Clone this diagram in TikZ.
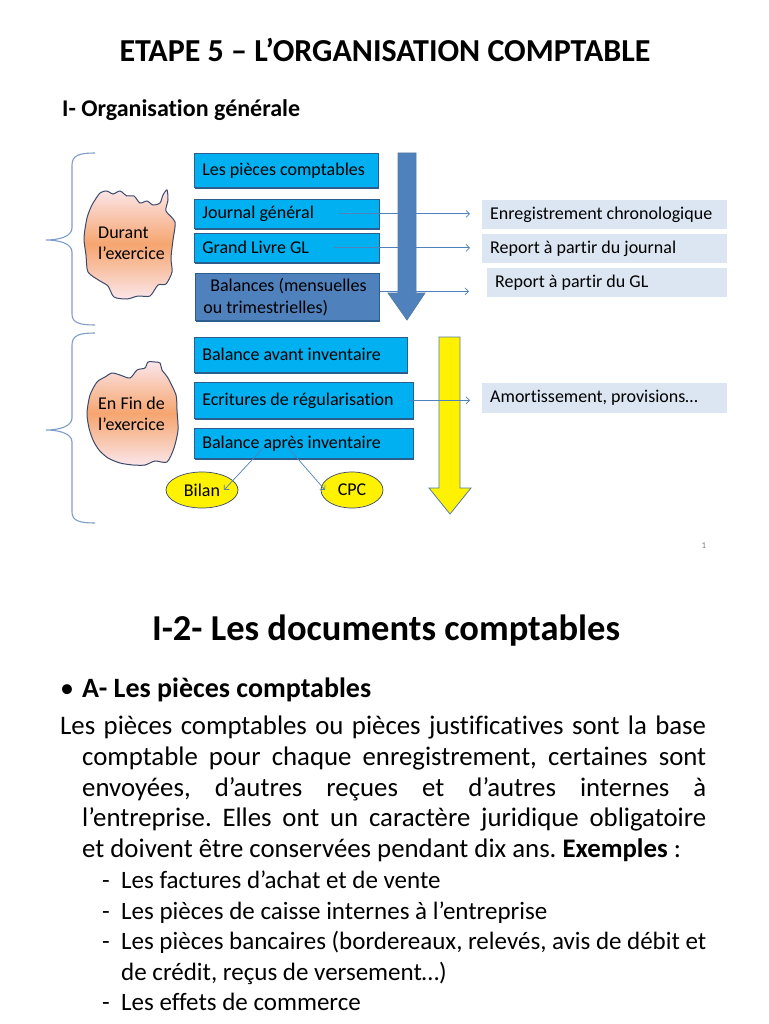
\documentclass[tikz,border=0pt]{standalone}
\usepackage{fontspec}
\setmainfont{Carlito}[Ligatures=NoCommon]
\usepackage{tikz}
\usetikzlibrary{arrows.meta,positioning,shadows,shapes.geometric}

\definecolor{cyanbox}{HTML}{00B0F0}
\definecolor{steel}{HTML}{4F81BD}
\definecolor{boxedge}{HTML}{2C5D8F}
\definecolor{lightbox}{HTML}{DCE6F2}
\definecolor{bracecol}{HTML}{7F9DCB}
\definecolor{cloudline}{HTML}{3B4A6B}
\definecolor{cloudtop}{HTML}{FBE6EA}
\definecolor{cloudmid}{HTML}{F6A56F}

\begin{document}
\begin{tikzpicture}[
    x=1pt, y=-1pt,
    font=\fontsize{18}{21}\selectfont,
    block/.style={draw=boxedge, line width=0.6pt, fill=cyanbox, rectangle, anchor=north west,
        inner xsep=8pt, inner ysep=0pt, align=flush left, text width=#1,
        drop shadow={fill=boxedge, shadow xshift=0.8pt, shadow yshift=-1.6pt, opacity=1}},
    note/.style={fill=lightbox, rectangle, anchor=north west, inner xsep=8pt, inner ysep=0pt,
        align=flush left, text width=#1},
    oval/.style={draw=cloudline, line width=0.7pt, fill=yellow, ellipse, inner sep=0pt},
    cloud/.style={draw=cloudline, line width=1pt, top color=cloudtop, bottom color=cloudtop,
        middle color=cloudmid},
    brace/.style={draw=bracecol, line width=1.1pt},
    bigarrow/.style={draw=boxedge!80, line width=0.8pt},
    link/.style={draw=steel, line width=0.7pt, -{Straight Barb[length=3.5pt,width=7pt]}},
    title/.style={font=\fontsize{32}{36}\selectfont\bfseries},
    body/.style={anchor=north west, inner sep=0pt, align=justify}
]
    \useasboundingbox (0,0) rectangle (768,1024);
    \fill[white] (0,0) rectangle (768,1024);

    % Diapo 1 : titres
    \node[title] (titre) at (385,50) {ETAPE 5 – L’ORGANISATION COMPTABLE};
    \node[anchor=west, inner sep=0pt, font=\fontsize{24}{26}\selectfont\bfseries] (orga) at (62,110) {I- Organisation générale};

    % Accolades
    \draw[brace] (95,153) .. controls (80,153) and (72,155) .. (72,165) -- (72,228)
        .. controls (72,236) and (60,240) .. (46,240) .. controls (60,240) and (72,244) .. (72,252)
        -- (72,314) .. controls (72,323) and (80,325) .. (95,325);
    \draw[brace] (95,333) .. controls (80,333) and (72,335) .. (72,345) -- (72,418)
        .. controls (72,426) and (60,430) .. (46,430) .. controls (60,430) and (72,434) .. (72,442)
        -- (72,512) .. controls (72,521) and (80,523) .. (95,523);

    % Formes des periodes
    \draw[cloud] plot[smooth cycle, tension=0.45] coordinates {(87,218) (92,205) (100,193) (107,191)
        (113,194) (120,191) (127,196) (134,196) (140,203) (147,201) (153,205) (160,203) (163,195)
        (167,190) (168,200) (166,211) (175,222) (173,240) (171,258) (172,272) (166,284) (158,285)
        (150,296) (138,296) (127,299) (114,297) (108,286) (100,281) (88,272) (86,255) (84,238)};
    \draw[cloud] plot[smooth cycle, tension=0.45] coordinates {(87,413) (90,395) (97,382) (105,377)
        (112,373) (120,375) (130,378) (137,370) (145,368) (148,362) (155,362) (160,363) (162,370)
        (168,378) (176,395) (177,410) (178,430) (174,448) (167,462) (155,461) (145,465) (133,465)
        (120,463) (108,458) (99,450) (93,440) (89,428)};
    \node[anchor=west, align=left, inner sep=0pt] (durant) at (98,243) {Durant\\l’exercice};
    \node[anchor=west, align=left, inner sep=0pt] (fin) at (98,414) {En Fin de\\l’exercice};

    % Grandes fleches
    \draw[bigarrow, fill=steel] (398,153) -- (416,153) -- (416,293) -- (425,293) -- (407,320)
        -- (388,293) -- (398,293) -- cycle;
    \draw[bigarrow, fill=yellow] (439,337) -- (460,337) -- (460,488) -- (471,488) -- (450,514)
        -- (429,488) -- (439,488) -- cycle;

    % Etapes
    \node[block=168pt, minimum height=34pt] (pieces) at (194,153) {Les pièces comptables};
    \node[block=169pt, minimum height=29pt] (journal) at (194,199) {Journal général};
    \node[block=169pt, minimum height=29pt] (grandlivre) at (194,233) {Grand Livre GL};
    \node[block=168pt, minimum height=47pt, fill=steel, font=\fontsize{18}{22}\selectfont]
        (balances) at (195,273) {\hspace*{7pt}Balances (mensuelles\\ou trimestrielles)};
    \node[block=197pt, minimum height=35pt] (avant) at (194,337) {Balance avant inventaire};
    \node[block=203pt, minimum height=36pt] (regul) at (194,382) {Ecritures de régularisation};
    \node[block=203pt, minimum height=30pt] (apres) at (194,428) {Balance après inventaire};

    \node[oval, minimum width=72pt, minimum height=36pt] (bilan) at (202,490) {Bilan};
    \node[oval, minimum width=62pt, minimum height=36pt] (cpc) at (352,490) {CPC};

    % Commentaires a droite
    \node[note=229pt, minimum height=29pt] (chrono) at (482,200) {Enregistrement chronologique};
    \node[note=229pt, minimum height=29pt] (repjournal) at (482,234) {Report à partir du journal};
    \node[note=224pt, minimum height=29pt] (repgl) at (487,268) {Report à partir du GL};
    \node[note=229pt, minimum height=30pt] (amort) at (482,383) {Amortissement, provisions…};

    % Liens
    \coordinate (balout) at ([yshift=5.5pt]balances.east);
    \draw[link, shorten >=12pt] ([xshift=-41pt]journal.east) -- (journal.east -| chrono.west);
    \draw[link, shorten >=12pt] ([xshift=-46pt]grandlivre.east) -- (grandlivre.east -| repjournal.west);
    \draw[link, shorten >=18pt] (balout) -- (balout -| repgl.west);
    \draw[link, shorten >=12pt] ([xshift=-5pt]regul.east) -- (regul.east -| amort.west);
    \draw[link] ([xshift=-40pt,yshift=-4pt]apres.center) -- ([xshift=22pt]bilan.center);
    \draw[link] ([xshift=-16pt,yshift=-4pt]apres.center) -- ([xshift=-27pt]cpc.center);

    \node[font=\fontsize{9}{10}\selectfont, text=gray] (page) at (704,546) {1};

    % Diapo 2
    \node[font=\fontsize{36.5}{40}\selectfont\bfseries] (titre2) at (386,631) {I-2- Les documents comptables};
    \node[anchor=west, inner sep=0pt, font=\fontsize{28}{30}\selectfont] (puce) at (60,690)
        {\makebox[22pt][l]{•}\textbf{A- Les pièces comptables}};
    \node[body, text width=646pt, font=\fontsize{26.8}{30.6}\selectfont] (para) at (60,716)
        {\frenchspacing\parshape 2 0pt 646pt 22pt 624pt Les pièces comptables ou pièces justificatives sont la base\linebreak
        comptable pour chaque enregistrement, certaines sont\linebreak
        envoyées, d’autres reçues et d’autres internes à\linebreak
        l’entreprise. Elles ont un caractère juridique obligatoire\linebreak
        et doivent être conservées pendant dix ans. \textbf{Exemples} :\par};
    \node[body, text width=604pt, font=\fontsize{25}{30.5}\selectfont] (liste) at (102,871)
        {\frenchspacing\makebox[19pt][l]{-}Les factures d’achat et de vente\par
        \makebox[19pt][l]{-}Les pièces de caisse internes à l’entreprise\par
        \parshape 2 0pt 604pt 19pt 585pt\makebox[19pt][l]{-}Les pièces bancaires (bordereaux, relevés, avis de débit et\linebreak
        de crédit, reçus de versement…)\par
        \makebox[19pt][l]{-}Les effets de commerce};
\end{tikzpicture}
\end{document}
